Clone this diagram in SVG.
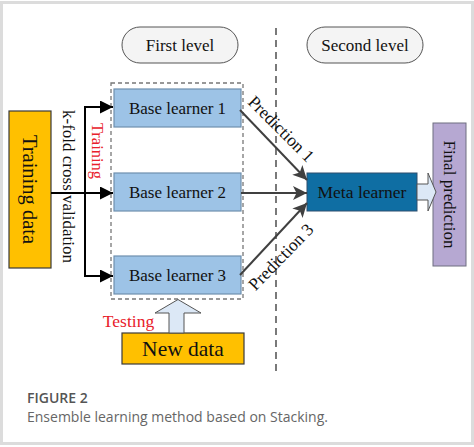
<svg xmlns="http://www.w3.org/2000/svg" width="474" height="447" viewBox="0 0 474 447">
<defs>
<style>
.serif{font-family:"Liberation Serif","Times New Roman",serif;fill:#111}
.base{fill:#9dc3e6;stroke:#6e8fae;stroke-width:1.2}
.orange{fill:#ffc000;stroke:#3a3a3a;stroke-width:1.2}
.pill{fill:#f4f4f4;stroke:#555;stroke-width:1}
.blk{stroke:#000;stroke-width:2;fill:none}
.gry{stroke:#404040;stroke-width:2;fill:none}
.hollow{fill:#dce8f6;stroke:#555;stroke-width:1}
.cap{font-family:"Open Sans","Noto Sans",sans-serif;font-size:14px}
.red{fill:#e8202a}
</style>
<marker id="ab" viewBox="0 0 10 10" refX="10" refY="5" markerWidth="14" markerHeight="13" markerUnits="userSpaceOnUse" orient="auto"><path d="M0,0 L10,5 L0,10 z" fill="#000"/></marker>
<marker id="ag" viewBox="0 0 10 10" refX="10" refY="5" markerWidth="17" markerHeight="14" markerUnits="userSpaceOnUse" orient="auto"><path d="M0,0 L10,5 L0,10 L2.5,5 z" fill="#404040"/></marker>
</defs>
<rect x="0" y="0" width="474" height="447" fill="#fff"/>
<rect x="1.5" y="2.5" width="471" height="441" fill="#fff" stroke="#dcdcdc" stroke-width="3"/>

<g id="first-level"><rect class="pill" x="122" y="27" width="116" height="36" rx="18"/><text class="serif" x="180" y="51" font-size="17" text-anchor="middle">First level</text></g>
<g id="second-level"><rect class="pill" x="307" y="27" width="116" height="36" rx="18"/><text class="serif" x="365" y="51" font-size="17" text-anchor="middle">Second level</text></g>
<line x1="276" y1="28" x2="276" y2="372" stroke="#333" stroke-width="1.3" stroke-dasharray="7,5"/>

<g id="base-group"><rect x="111" y="83" width="132" height="216" fill="none" stroke="#777" stroke-width="1.3" stroke-dasharray="4,3"/></g>

<g id="training-data"><rect class="orange" x="9" y="111" width="42" height="157"/><text class="serif" font-size="20.5" text-anchor="middle" transform="translate(30,189.5) rotate(90)" dy="7">Training data</text></g>

<g id="base-learner-1"><rect class="base" x="114" y="89" width="127" height="38"/><text class="serif" x="177.5" y="114" font-size="17" text-anchor="middle">Base learner 1</text></g>
<g id="base-learner-2"><rect class="base" x="114" y="173" width="127" height="38"/><text class="serif" x="177.5" y="198" font-size="17" text-anchor="middle">Base learner 2</text></g>
<g id="base-learner-3"><rect class="base" x="114" y="256" width="127" height="38"/><text class="serif" x="177.5" y="281" font-size="17" text-anchor="middle">Base learner 3</text></g>

<g id="meta-learner"><rect x="307" y="173" width="110" height="38" fill="#0f6ea3" stroke="#2f4f6f" stroke-width="1"/><text class="serif" x="362" y="198" font-size="17.5" text-anchor="middle">Meta learner</text></g>

<g id="final-prediction"><rect x="433" y="123" width="33" height="143" fill="#b6a8d2" stroke="#6f6f80" stroke-width="1"/><text class="serif" font-size="17" text-anchor="middle" transform="translate(449.5,194.5) rotate(90)" dy="6">Final prediction</text></g>

<g id="new-data"><rect class="orange" x="122" y="333" width="122" height="31"/><text class="serif" x="183" y="356" font-size="21.5" text-anchor="middle">New data</text></g>

<g id="connectors">
<path class="blk" d="M51,193 H113" marker-end="url(#ab)"/>
<path class="blk" d="M113,107 H85 V276 H113" marker-end="url(#ab)"/>
<path class="blk" d="M85,107 H113" marker-end="url(#ab)"/>
<path class="gry" d="M240,110 L307,180" marker-end="url(#ag)"/>
<path class="gry" d="M241,193 L307,193" marker-end="url(#ag)"/>
<path class="gry" d="M240,275 L307,203" marker-end="url(#ag)"/>
<path class="hollow" d="M417,184 H428 V173 L436,192 L428,211 V200 H417 Z"/>
<path class="hollow" d="M169,333 V313 H155 L178,299.5 L201,313 H184 V333 Z"/>
</g>

<text class="serif" font-size="17" text-anchor="middle" transform="translate(68,186.5) rotate(90)" dy="5">k-fold cross validation</text>
<text class="serif red" font-size="16.5" text-anchor="middle" transform="translate(97,151) rotate(90)" dy="5">Training</text>
<text class="serif red" x="128.5" y="327" font-size="17.5" text-anchor="middle">Testing</text>
<text class="serif" font-size="17.5" text-anchor="middle" transform="translate(277,133) rotate(45)">Prediction 1</text>
<text class="serif" font-size="17.5" text-anchor="middle" transform="translate(285,261) rotate(-46)">Prediction 3</text>

<text class="cap" x="27" y="403" fill="#555" font-weight="600">FIGURE 2</text>
<text class="cap" x="27" y="422" fill="#666">Ensemble learning method based on Stacking.</text>
</svg>
